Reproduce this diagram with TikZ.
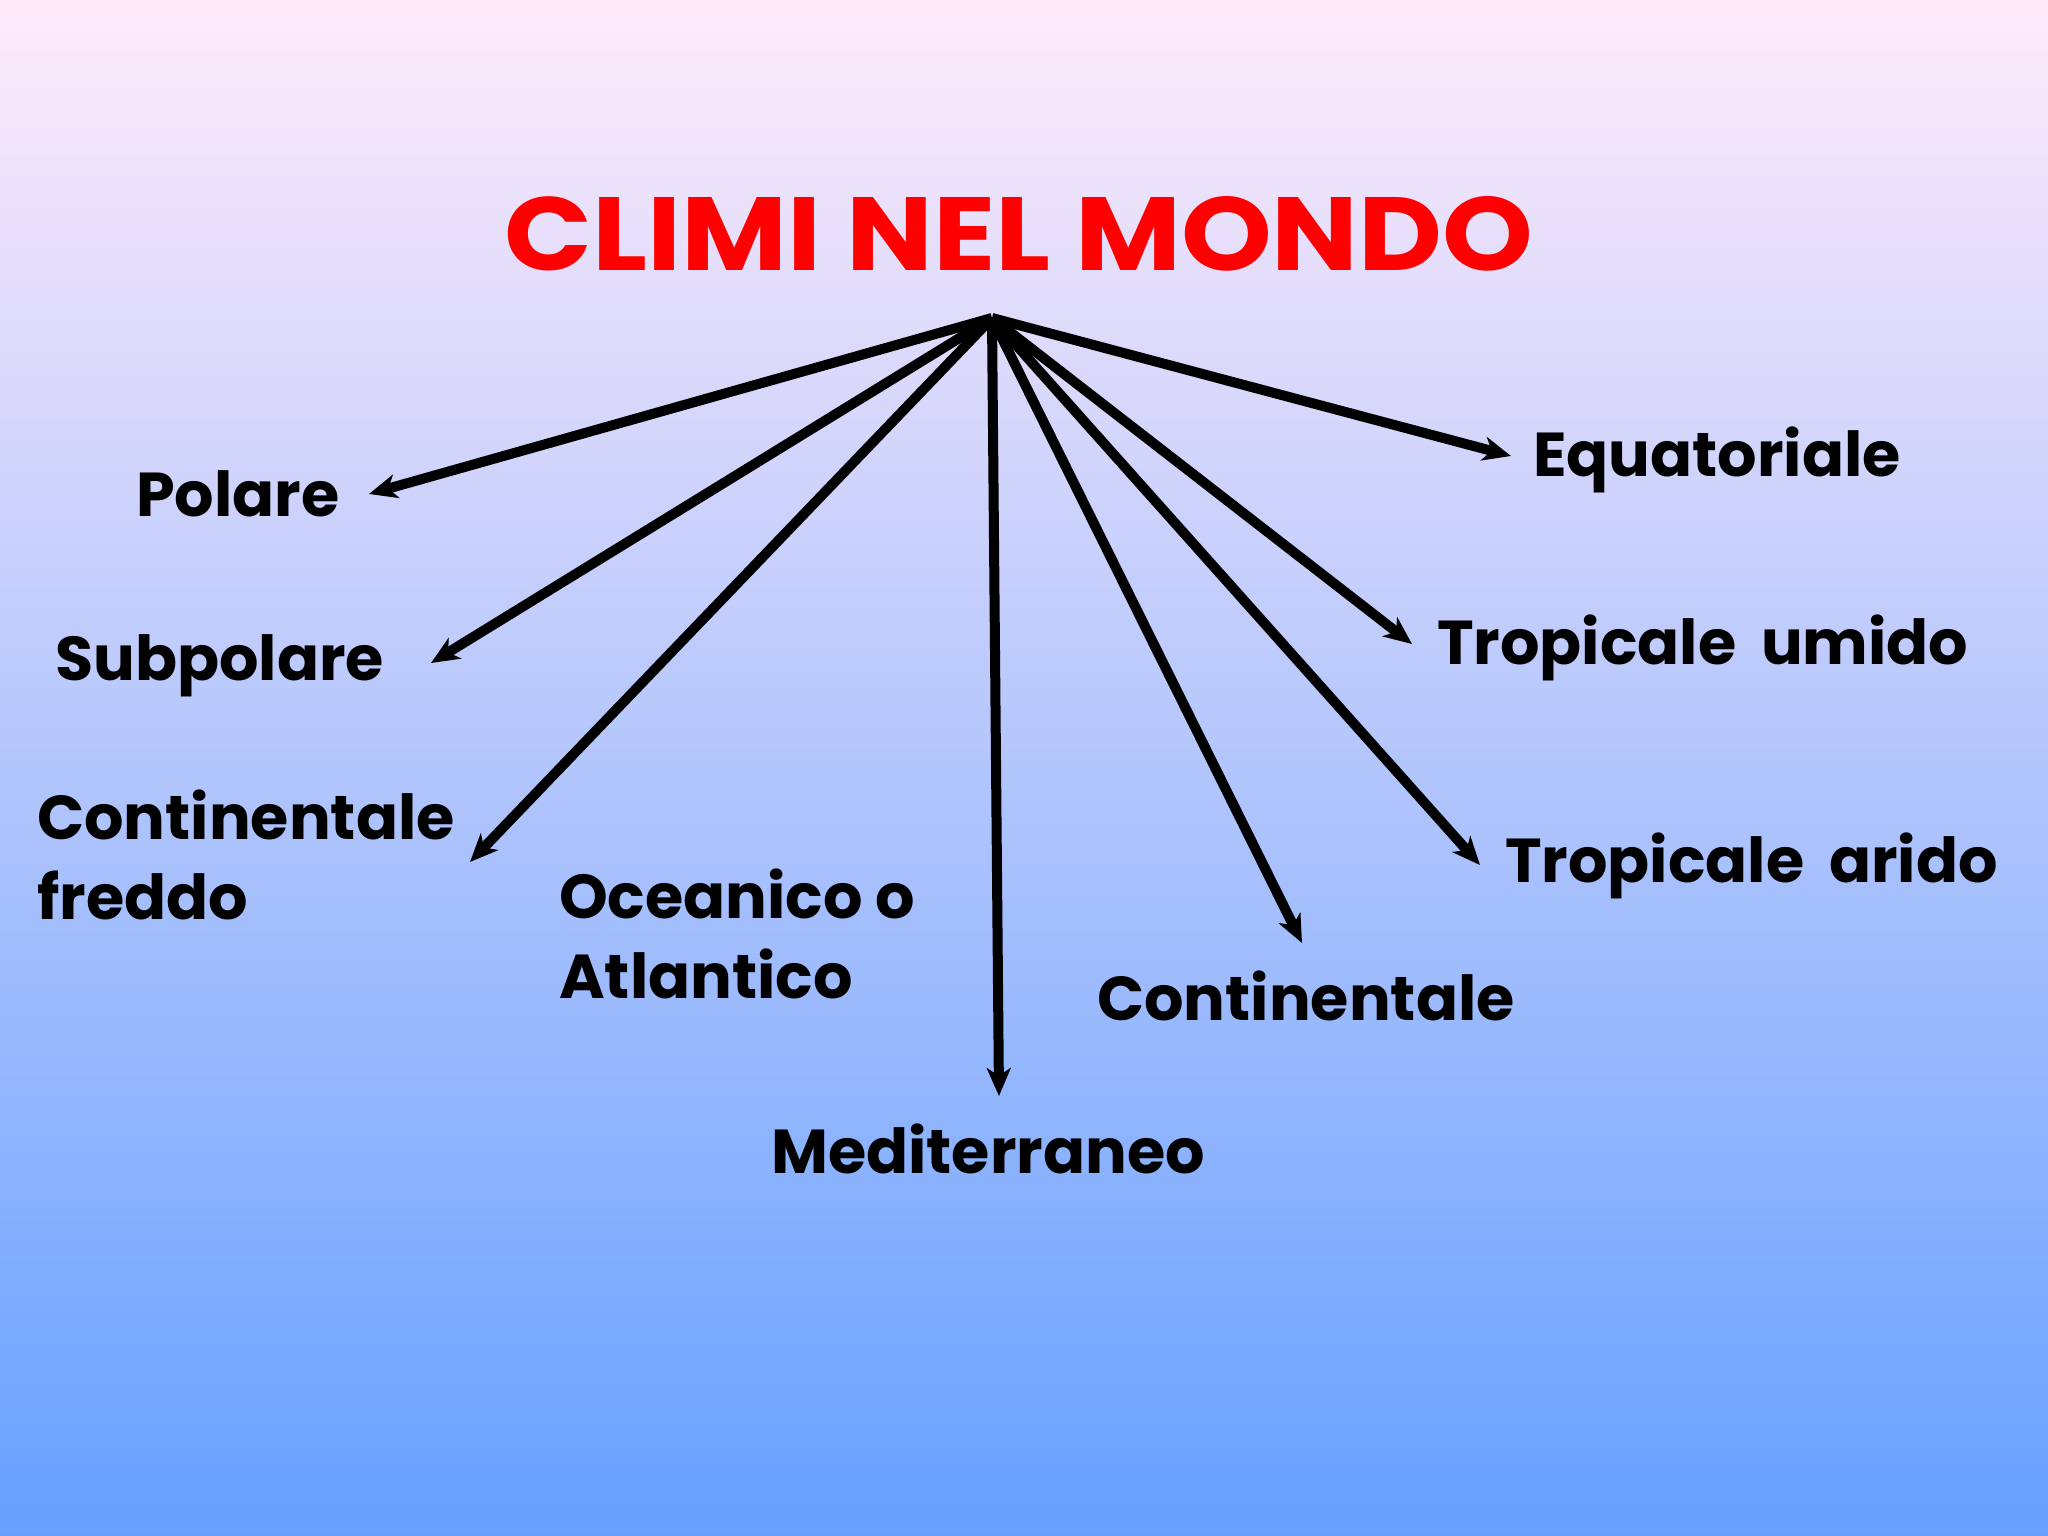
\documentclass[tikz,border=0pt]{standalone}
\usepackage{fontspec}
\setmainfont{Poppins}
\usetikzlibrary{arrows.meta}
\definecolor{bgtop}{RGB}{255,235,250}
\definecolor{bgbot}{RGB}{102,160,255}
\definecolor{titlered}{RGB}{255,0,0}
\tikzset{
  lbl/.style={font=\fontsize{62}{80}\selectfont\bfseries, text=black, inner sep=0pt, align=left},
  ttl/.style={font=\fontsize{104}{110}\selectfont\bfseries, text=titlered, inner sep=0pt},
  arr/.style={line width=10pt, draw=black, -{Stealth[length=28pt,width=24pt,inset=8pt]}},
}
\begin{document}
\begin{tikzpicture}[x=1pt,y=-1pt]
\useasboundingbox (0,0) rectangle (2048,1536);
\shade[top color=bgtop, bottom color=bgbot] (0,0) rectangle (2048,1536);
\node[ttl] (title) at (1019,234) {\scalebox{1.11}[1]{CLIMI NEL MONDO}};
\coordinate (apex) at (992,318);
\node[lbl, anchor=west] (polare) at (136,494) {Polare};
\node[lbl, anchor=west] (subpolare) at (55,666) {Subpolare};
\node[lbl, anchor=north west] (contfreddo) at (37,790) {Continentale\\freddo};
\node[lbl, anchor=north west] (oceanico) at (559,869) {Oceanico o\\Atlantico};
\node[lbl, anchor=west] (mediterraneo) at (771,1149) {Mediterraneo};
\node[lbl, anchor=west] (continentale) at (1097,996) {Continentale};
\node[lbl, anchor=west] (tropar) at (1505,866) {Tropicale\hspace{0.4em}arido};
\node[lbl, anchor=west] (tropum) at (1437,648) {Tropicale\hspace{0.4em}umido};
\node[lbl, anchor=west] (equat) at (1533,460) {Equatoriale};
\coordinate (tPolare) at (369,494);
\coordinate (tSub) at (431,663);
\coordinate (tCF) at (470,862);
\coordinate (tMed) at (999,1096);
\coordinate (tCont) at (1302,943);
\coordinate (tTA) at (1480,865);
\coordinate (tTU) at (1412,644);
\coordinate (tEq) at (1511,456);
\foreach \t in {tPolare,tSub,tCF,tMed,tCont,tTA,tTU,tEq}
  \draw[arr] (apex) -- (\t);
\end{tikzpicture}
\end{document}
